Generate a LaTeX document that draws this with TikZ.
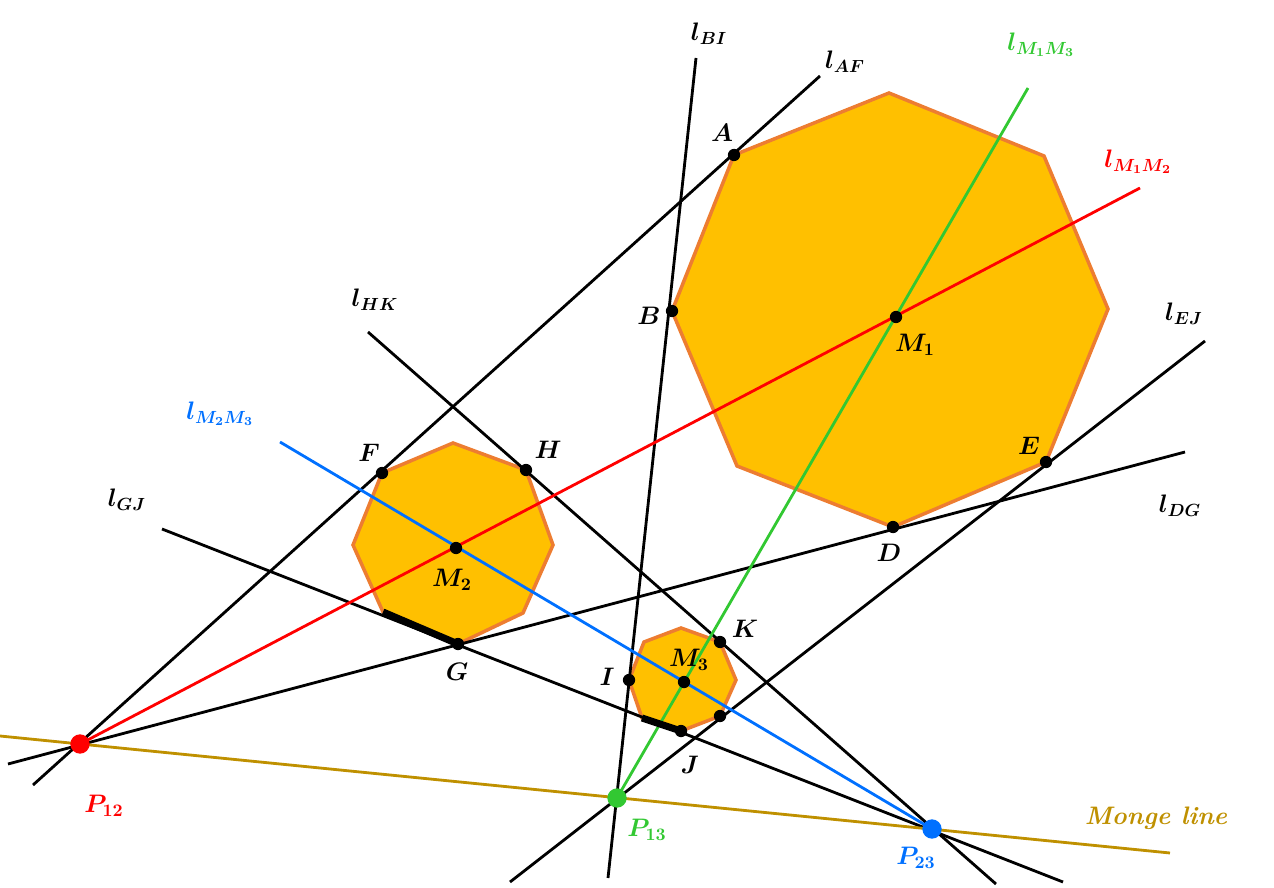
\documentclass[tikz,border=0pt]{standalone}
\usepackage{amsmath}
\definecolor{mg@fill}{RGB}{255,192,0}
\definecolor{mg@edge}{RGB}{237,125,49}
\definecolor{mg@red}{RGB}{255,0,0}
\definecolor{mg@green}{RGB}{50,200,50}
\definecolor{mg@blue}{RGB}{0,112,255}
\definecolor{mg@gold}{RGB}{191,144,0}
\begin{document}
\begin{tikzpicture}[x=0.02cm,y=-0.02cm,
  line width=1.6pt,
  lbl/.style={font=\boldmath\Large},
  dot/.style={circle,fill=black,inner sep=0pt,minimum size=7pt},
  bigdot/.style={circle,inner sep=0pt,minimum size=11pt},
  poly/.style={fill=mg@fill,draw=mg@edge,line width=2pt},
]
\useasboundingbox (0,0) rectangle (1274,888);

% polygons
\draw[poly] (889,93) -- (1044,156) -- (1108,309) -- (1046,462) -- (893,527) -- (737,466) -- (672,311) -- (734,155) -- cycle;
\draw[poly] (453,443) -- (526,470) -- (553,545) -- (523,613) -- (458,644) -- (383,612) -- (353,545) -- (382,473) -- cycle;
\draw[poly] (681,628) -- (720,642) -- (736,680) -- (720,716) -- (681,731) -- (642,718) -- (629,680) -- (644,642) -- cycle;

% end points of the lines
\coordinate (bi1) at (696,58);   \coordinate (bi2) at (608,878);
\coordinate (af1) at (820,76);   \coordinate (af2) at (33,785);
\coordinate (hk1) at (368,332);  \coordinate (hk2) at (996,884);
\coordinate (ej1) at (1205,341); \coordinate (ej2) at (510,882);
\coordinate (dg1) at (1185,452); \coordinate (dg2) at (8,764);
\coordinate (gj1) at (162,529);  \coordinate (gj2) at (1063,882);
\coordinate (m13) at (1028,88);  \coordinate (m12) at (1140,188);
\coordinate (m23) at (280,442);
\coordinate (mo1) at (0,736);    \coordinate (mo2) at (1170,853);
\coordinate (P12) at (80,744);
\coordinate (P13) at (617,798);
\coordinate (P23) at (932,829);

% lines
\draw (bi1) -- (bi2);
\draw (af1) -- (af2);
\draw (hk1) -- (hk2);
\draw (ej1) -- (ej2);
\draw (dg1) -- (dg2);
\draw (gj1) -- (gj2);
\draw[mg@green] (m13) -- (P13);
\draw[mg@red] (m12) -- (P12);
\draw[mg@blue] (m23) -- (P23);
\draw[mg@gold] (mo1) -- (mo2);
\draw[line width=4pt] (383,612) -- (458,644);
\draw[line width=4pt] (642,718) -- (681,731);

% points
\node[dot] (A) at (734,155) {};
\node[dot] (B) at (672,311) {};
\node[dot] (D) at (893,527) {};
\node[dot] (E) at (1046,462) {};
\node[dot] (F) at (382,473) {};
\node[dot] (H) at (526,470) {};
\node[dot] (G) at (458,644) {};
\node[dot] (I) at (629,680) {};
\node[dot] (J) at (681,731) {};
\node[dot] (K) at (720,642) {};
\node[dot] (L) at (720,716) {};
\node[dot] (M1) at (896,317) {};
\node[dot] (M2) at (456,548) {};
\node[dot] (M3) at (684,682) {};
\node[bigdot,fill=mg@red] (p12) at (P12) {};
\node[bigdot,fill=mg@green] (p13) at (P13) {};
\node[bigdot,fill=mg@blue] (p23) at (P23) {};

% labels
\node[lbl] at (722,133) {$A$};
\node[lbl] at (649,316) {$B$};
\node[lbl] at (889,553) {$D$};
\node[lbl] at (1029,446) {$E$};
\node[lbl] at (369,453) {$F$};
\node[lbl] at (548,450) {$H$};
\node[lbl] at (457,672) {$G$};
\node[lbl] at (607,677) {$I$};
\node[lbl] at (690,765) {$J$};
\node[lbl] at (745,629) {$K$};
\node[lbl] at (915,345) {$M_1$};
\node[lbl] at (452,580) {$M_2$};
\node[lbl] at (689,660) {$M_3$};
\node[lbl,mg@red] at (104,806) {$P_{12}$};
\node[lbl,mg@green] at (647,830) {$P_{13}$};
\node[lbl,mg@blue] at (916,858) {$P_{23}$};
\node[lbl] at (709,34) {$l_{BI}$};
\node[lbl] at (845,62) {$l_{AF}$};
\node[lbl] at (375,300) {$l_{HK}$};
\node[lbl] at (1184,314) {$l_{EJ}$};
\node[lbl] at (1180,506) {$l_{DG}$};
\node[lbl] at (127,500) {$l_{GJ}$};
\node[lbl,mg@green] at (1041,45) {$l_{M_1M_3}$};
\node[lbl,mg@red] at (1138,162) {$l_{M_1M_2}$};
\node[lbl,mg@blue] at (220,414) {$l_{M_2M_3}$};
\node[lbl,mg@gold,font=\bfseries\itshape\Large] at (1156,818) {Monge line};
\end{tikzpicture}
\end{document}
